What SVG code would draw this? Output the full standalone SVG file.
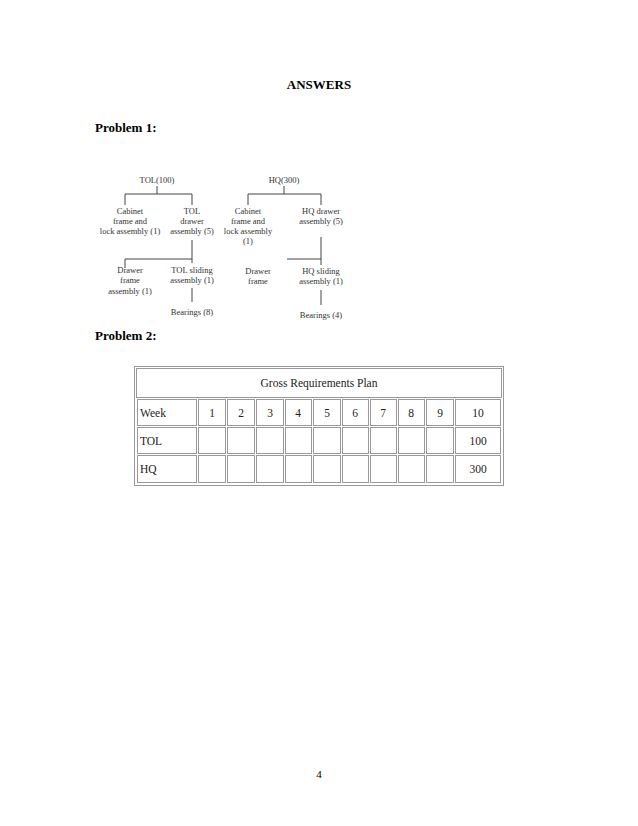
<svg xmlns="http://www.w3.org/2000/svg" width="638" height="826" viewBox="0 0 638 826">
<style>
.h{font-family:"Liberation Serif",serif;font-weight:bold;font-size:13px}
.t{font-family:"Liberation Serif",serif;font-size:8.5px;fill:#333;text-anchor:middle}
.c{font-family:"Liberation Serif",serif;font-size:11.5px;fill:#222}
.l{stroke:#444;stroke-width:1;fill:none}
.b{fill:none;stroke:#999;stroke-width:1}
</style>
<rect width="638" height="826" fill="#fff"/>
<text class="h" x="319" y="89" text-anchor="middle">ANSWERS</text>
<text class="h" x="95" y="132">Problem 1:</text>
<text class="h" x="95" y="340">Problem 2:</text>
<g id="connectors">
<path class="l" d="M157 186V194M125 205V194H192V205M192 240V263M125 268V259H192M192 288V302"/>
<path class="l" d="M284 186V194M248 205V194H321V205M321 237V265M287 259H321M321 290V305"/>
</g>
<g id="tol"><text class="t" x="157" y="183">TOL(100)</text></g>
<g id="cab1"><text class="t" x="130" y="214">Cabinet</text><text class="t" x="130" y="224">frame and</text><text class="t" x="130" y="234">lock assembly (1)</text></g>
<g id="toldrawer"><text class="t" x="192" y="214">TOL</text><text class="t" x="192" y="224">drawer</text><text class="t" x="192" y="234">assembly (5)</text></g>
<g id="dfa"><text class="t" x="130" y="273">Drawer</text><text class="t" x="130" y="283">frame</text><text class="t" x="130" y="294">assembly (1)</text></g>
<g id="tolslide"><text class="t" x="192" y="273">TOL sliding</text><text class="t" x="192" y="283">assembly (1)</text></g>
<g id="bear8"><text class="t" x="192" y="315">Bearings (8)</text></g>
<g id="hq"><text class="t" x="284" y="183">HQ(300)</text></g>
<g id="cab2"><text class="t" x="248" y="214">Cabinet</text><text class="t" x="248" y="224">frame and</text><text class="t" x="248" y="234">lock assembly</text><text class="t" x="248" y="244">(1)</text></g>
<g id="hqdrawer"><text class="t" x="321" y="214">HQ drawer</text><text class="t" x="321" y="224">assembly (5)</text></g>
<g id="df"><text class="t" x="258" y="274">Drawer</text><text class="t" x="258" y="284">frame</text></g>
<g id="hqslide"><text class="t" x="321" y="274">HQ sliding</text><text class="t" x="321" y="284">assembly (1)</text></g>
<g id="bear4"><text class="t" x="321" y="318">Bearings (4)</text></g>
<g id="table">
<rect class="b" x="134.5" y="366.5" width="369" height="119"/>
<rect class="b" x="136.5" y="368.5" width="365" height="29"/>
<text class="c" x="319" y="387" text-anchor="middle">Gross Requirements Plan</text>
<g class="b">
<rect x="137.5" y="399.5" width="59" height="26"/><rect x="198.5" y="399.5" width="27" height="26"/><rect x="227.5" y="399.5" width="27" height="26"/><rect x="256.5" y="399.5" width="27" height="26"/><rect x="285.5" y="399.5" width="26" height="26"/><rect x="313.5" y="399.5" width="27" height="26"/><rect x="342.5" y="399.5" width="26" height="26"/><rect x="370.5" y="399.5" width="26" height="26"/><rect x="398.5" y="399.5" width="26" height="26"/><rect x="426.5" y="399.5" width="27" height="26"/><rect x="455.5" y="399.5" width="45" height="26"/>
<rect x="137.5" y="427.5" width="59" height="26"/><rect x="198.5" y="427.5" width="27" height="26"/><rect x="227.5" y="427.5" width="27" height="26"/><rect x="256.5" y="427.5" width="27" height="26"/><rect x="285.5" y="427.5" width="26" height="26"/><rect x="313.5" y="427.5" width="27" height="26"/><rect x="342.5" y="427.5" width="26" height="26"/><rect x="370.5" y="427.5" width="26" height="26"/><rect x="398.5" y="427.5" width="26" height="26"/><rect x="426.5" y="427.5" width="27" height="26"/><rect x="455.5" y="427.5" width="45" height="26"/>
<rect x="137.5" y="455.5" width="59" height="27"/><rect x="198.5" y="455.5" width="27" height="27"/><rect x="227.5" y="455.5" width="27" height="27"/><rect x="256.5" y="455.5" width="27" height="27"/><rect x="285.5" y="455.5" width="26" height="27"/><rect x="313.5" y="455.5" width="27" height="27"/><rect x="342.5" y="455.5" width="26" height="27"/><rect x="370.5" y="455.5" width="26" height="27"/><rect x="398.5" y="455.5" width="26" height="27"/><rect x="426.5" y="455.5" width="27" height="27"/><rect x="455.5" y="455.5" width="45" height="27"/>
</g>
<g class="c" text-anchor="middle">
<text x="140" y="417" text-anchor="start">Week</text>
<text x="212" y="417">1</text><text x="241" y="417">2</text><text x="270" y="417">3</text><text x="298" y="417">4</text><text x="327" y="417">5</text><text x="355" y="417">6</text><text x="383" y="417">7</text><text x="411" y="417">8</text><text x="440" y="417">9</text><text x="478" y="417">10</text>
<text x="140" y="445" text-anchor="start">TOL</text><text x="478" y="445">100</text>
<text x="140" y="473" text-anchor="start">HQ</text><text x="478" y="473">300</text>
</g>
</g>
<text x="319" y="778" text-anchor="middle" style="font-family:'Liberation Serif',serif;font-size:11px">4</text>
</svg>
